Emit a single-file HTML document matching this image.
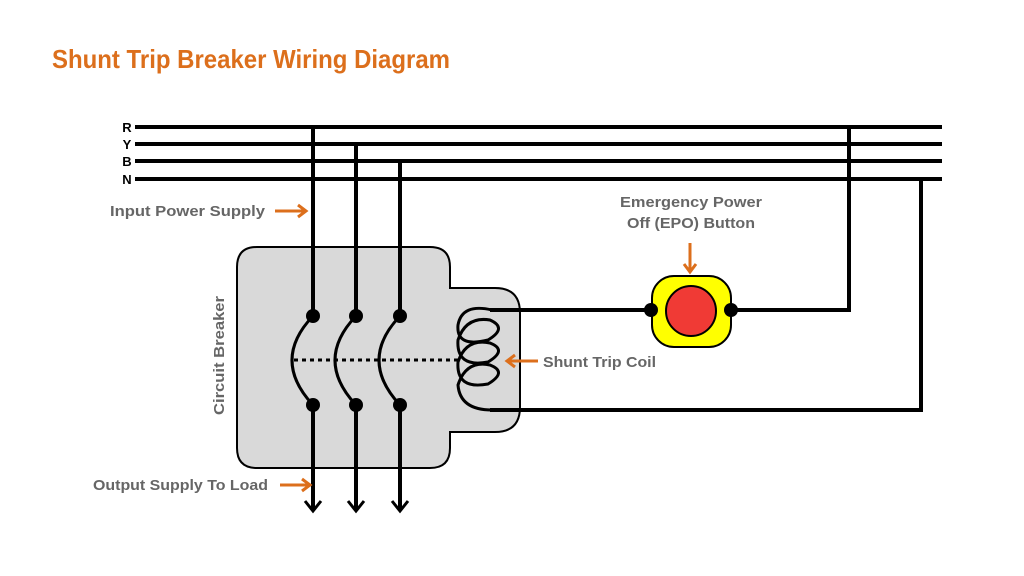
<!DOCTYPE html>
<html><head><style>body{margin:0;background:#fff}svg{display:block}</style></head><body>
<svg width="1024" height="576" viewBox="0 0 1024 576" xmlns="http://www.w3.org/2000/svg" font-family="Liberation Sans, sans-serif" font-weight="bold">
<text x="52" y="68" font-size="26" fill="#dc6f1c" textLength="398" lengthAdjust="spacingAndGlyphs">Shunt Trip Breaker Wiring Diagram</text>
<g fill="#000" font-size="13" text-anchor="middle">
<text x="127" y="132">R</text><text x="127" y="149">Y</text><text x="127" y="166">B</text><text x="127" y="184">N</text>
</g>
<path d="M257 247 H430 Q450 247 450 267 V288 H495 Q520 288 520 313 V407 Q520 432 495 432 H450 V448 Q450 468 430 468 H257 Q237 468 237 448 V267 Q237 247 257 247 Z" fill="#d9d9d9" stroke="#000" stroke-width="2"/>
<g stroke="#000" stroke-width="4" fill="none">
<line x1="135" y1="127" x2="942" y2="127"/>
<line x1="135" y1="144" x2="942" y2="144"/>
<line x1="135" y1="161" x2="942" y2="161"/>
<line x1="135" y1="179" x2="942" y2="179"/>
<line x1="313" y1="127" x2="313" y2="316"/>
<line x1="356" y1="144" x2="356" y2="316"/>
<line x1="400" y1="161" x2="400" y2="316"/>
<line x1="313" y1="405" x2="313" y2="510"/>
<line x1="356" y1="405" x2="356" y2="510"/>
<line x1="400" y1="405" x2="400" y2="510"/>
<polyline points="849,127 849,310 730,310"/>
<polyline points="921,179 921,410 490,410"/>
<line x1="490" y1="310" x2="651" y2="310"/>
</g>
<g stroke="#000" stroke-width="3" fill="none">
<path d="M313 316 Q271 360 313 405"/>
<path d="M356 316 Q314 360 356 405"/>
<path d="M400 316 Q358 360 400 405"/>
<polyline points="305,501 313,511 321,501"/>
<polyline points="348,501 356,511 364,501"/>
<polyline points="392,501 400,511 408,501"/>
<path d="M492 310 Q462 303 458 325 Q456 348 488 340 Q508 328 490 320 Q466 316 458 340 Q456 368 488 362 Q508 350 490 343 Q466 338 458 362 Q456 390 488 384 Q508 372 490 365 Q466 360 458 385 Q460 410 492 410"/>
</g>
<line x1="294" y1="360" x2="462" y2="360" stroke="#000" stroke-width="3" stroke-dasharray="4,4"/>
<g fill="#000">
<circle cx="313" cy="316" r="7"/><circle cx="356" cy="316" r="7"/><circle cx="400" cy="316" r="7"/>
<circle cx="313" cy="405" r="7"/><circle cx="356" cy="405" r="7"/><circle cx="400" cy="405" r="7"/>
</g>
<rect x="652" y="276" width="79" height="71" rx="22" fill="#ffff00" stroke="#000" stroke-width="2"/>
<circle cx="691" cy="311" r="25" fill="#f03a35" stroke="#000" stroke-width="2"/>
<circle cx="651" cy="310" r="7" fill="#000"/><circle cx="731" cy="310" r="7" fill="#000"/>
<g fill="#666" font-size="15">
<text x="110" y="216" textLength="155" lengthAdjust="spacingAndGlyphs">Input Power Supply</text>
<text x="93" y="490" textLength="175" lengthAdjust="spacingAndGlyphs">Output Supply To Load</text>
<text x="543" y="367" textLength="113" lengthAdjust="spacingAndGlyphs">Shunt Trip Coil</text>
<text x="691" y="207" text-anchor="middle" textLength="142" lengthAdjust="spacingAndGlyphs">Emergency Power</text>
<text x="691" y="228" text-anchor="middle" textLength="128" lengthAdjust="spacingAndGlyphs">Off (EPO) Button</text>
<text transform="translate(224,415) rotate(-90)" textLength="119" lengthAdjust="spacingAndGlyphs">Circuit Breaker</text>
</g>
<g stroke="#dc6f1c" stroke-width="3" fill="none">
<line x1="275" y1="211" x2="305" y2="211"/><polyline points="298,205 306,211 298,217"/>
<line x1="280" y1="485" x2="309" y2="485"/><polyline points="302,479 310,485 302,491"/>
<line x1="538" y1="361" x2="508" y2="361"/><polyline points="515,355 507,361 515,367"/>
<line x1="690" y1="243" x2="690" y2="271"/><polyline points="684,264 690,272 696,264"/>
</g>
</svg>
</body></html>
